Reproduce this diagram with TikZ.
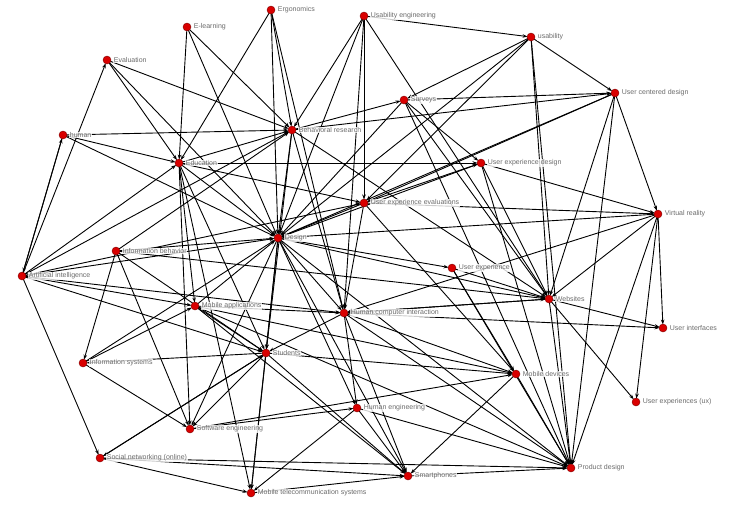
\documentclass[tikz,border=0pt]{standalone}
\usepackage{fontspec}
\setmainfont{Liberation Sans}
\usetikzlibrary{arrows.meta}
\begin{document}
\begin{tikzpicture}[x=1pt,y=-1pt,
  vert/.style={circle,fill=red!85!black,draw=red!50!black,inner sep=0pt,minimum size=8pt},
  lab/.style={right,font=\fontsize{7}{8}\selectfont,text=gray!85!black,fill=white,fill opacity=0.8,text opacity=1,inner sep=0.5pt,xshift=2pt},
  lnk/.style={-{Stealth[length=5pt,width=3.5pt]},line width=0.9pt,black}]
\useasboundingbox (0,0) rectangle (735,509);
\foreach \n/\x/\y in {
 erg/271/10, ue/364/16, el/187/27, us/531/37, ev/107/60, ucd/615/93, sv/404/100,
 br/292/130, hu/63/135, ed/179/163, uxd/481/163, uxe/364/203, vr/658/214,
 de/278/238, ib/116/251, ai/22/276, ux/452/268, ws/549/299, ma/195/306,
 hci/344/313, ui/663/328, st/266/353, is/83/363, md/516/374, uxx/636/402,
 he/357/408, se/190/429, sn/100/458, pd/571/468, sp/408/476, mt/251/493}
 {\coordinate (\n) at (\x,\y);}
\foreach \a/\b in {ai/ev,ai/hu,ai/ed,ai/de,ai/st,ai/sn,ai/ma,ai/hci,ai/br,
 hu/br,hu/ed,hu/de,hu/ai,ev/br,ev/de,ev/ed,el/br,el/de,el/ed,
 erg/de,erg/ed,erg/hci,erg/br,ue/de,ue/uxe,ue/us,ue/hci,ue/br,ue/ws,
 us/sv,us/de,us/uxe,us/ws,us/ucd,us/pd,sv/ucd,sv/de,sv/ws,sv/pd,sv/uxd,
 ucd/de,ucd/ws,ucd/vr,ucd/pd,ucd/uxe,br/de,br/sv,br/st,br/hci,br/ucd,br/ws,
 ed/de,ed/st,ed/se,ed/ma,ed/uxd,ed/mt,uxd/ws,uxd/vr,uxd/de,uxd/pd,
 uxe/de,uxe/uxd,uxe/hci,uxe/vr,uxe/md,vr/de,vr/ui,vr/uxx,vr/pd,vr/ws,vr/hci,
 de/st,de/hci,de/mt,de/sp,de/ws,de/pd,de/se,de/he,de/ux,
 ib/de,ib/st,ib/br,ib/is,ib/se,ux/ws,ux/pd,ux/md,ws/ui,ws/pd,ws/uxx,ws/hci,
 ma/hci,ma/st,ma/md,ma/sp,ma/de,hci/md,hci/pd,hci/sp,hci/he,hci/st,hci/ws,hci/ui,
 st/se,st/md,st/sp,st/sn,st/mt,st/is,is/ma,is/de,is/se,md/pd,md/sp,
 he/pd,he/sp,he/mt,se/he,sn/sp,sn/mt,sn/st,sn/pd,sp/pd,mt/sp,se/md,
 ed/uxe,ed/br,ib/ws,ai/uxe,ma/pd}
 {\draw[lnk,shorten >=3.5pt] (\a) -- (\b);}
\foreach \n/\t in {
 erg/Ergonomics, ue/Usability engineering, el/E-learning,
 us/usability, ev/Evaluation, ucd/User centered design,
 sv/Surveys, br/Behavioral research, hu/human,
 ed/Education, uxd/User experience design,
 uxe/User experience evaluations, vr/Virtual reality,
 de/Design, ib/Information behavior, ai/Artificial intelligence,
 ux/User experience, ws/Websites, ma/Mobile applications,
 hci/Human computer interaction, ui/User interfaces,
 st/Students, is/Information systems, md/Mobile devices,
 uxx/User experiences (ux), he/Human engineering,
 se/Software engineering, sn/Social networking (online),
 pd/Product design, sp/Smartphones,
 mt/Mobile telecommunication systems}
 {\node[vert] (n\n) at (\n) {}; \node[lab] at (n\n.east) {\t};}
\end{tikzpicture}
\end{document}
